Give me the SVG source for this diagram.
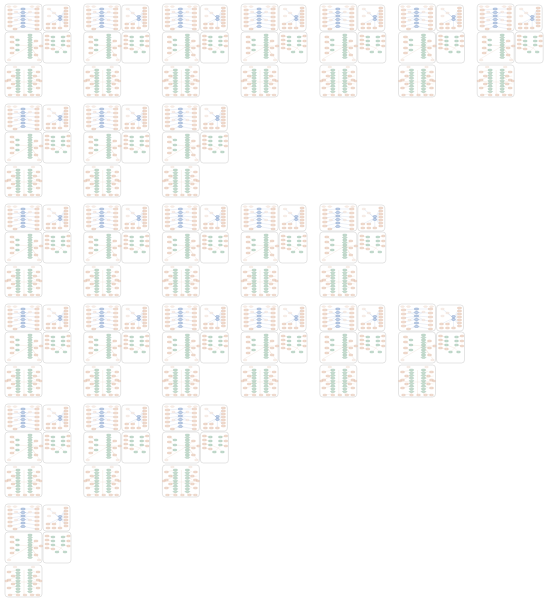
<svg xmlns="http://www.w3.org/2000/svg" xmlns:xlink="http://www.w3.org/1999/xlink" width="551" height="600" viewBox="0 0 551 600">
<style>
.p{fill:#fff;stroke:#d4d4d4;stroke-width:0.6}
.o{fill:#f5e3d8;stroke:#d1a084;stroke-width:0.3}
.b{fill:#c6d4ea;stroke:#5b7fb6;stroke-width:0.35}
.g{fill:#cfe2d7;stroke:#74a78c;stroke-width:0.3}
.f{fill:#f9efe9;stroke:#e6cfc1;stroke-width:0.3}
.e{stroke:#ecd6ca;stroke-width:0.3;fill:none}
.eb{stroke:#c3d0e6;stroke-width:0.3;fill:none}
</style>
<defs>
<g id="grp">
<rect class="p" x="0" y="0" width="37" height="27" rx="3"/>
<rect class="p" x="38" y="1" width="27" height="26" rx="3"/>
<rect class="p" x="0" y="28" width="37" height="31" rx="3"/>
<rect class="p" x="38" y="28" width="28" height="31" rx="3"/>
<rect class="p" x="0" y="61" width="37" height="32" rx="3"/>
<path class="eb" d="M18 5L5 6M18 5L32 5M18 8.5L5 10M18 8.5L32 9M18 12L5 14M18 12L32 13M18 15.5L5 18M18 15.5L32 17M18 19L5 22M18 19L32 21M18 22.5L10 25M18 22.5L32 25M18 5V22.5M11 8L25 16M11 16L25 8"/>
<ellipse class="f" cx="4" cy="2.6" rx="2" ry="0.8"/><ellipse class="f" cx="10" cy="2.6" rx="2" ry="0.8"/><ellipse class="f" cx="27" cy="2.6" rx="2" ry="0.8"/><ellipse class="f" cx="33" cy="2.6" rx="2" ry="0.8"/>
<ellipse class="b" cx="18" cy="5" rx="2.3" ry="1"/><ellipse class="b" cx="18" cy="8.5" rx="2.3" ry="1"/><ellipse class="b" cx="18" cy="12" rx="2.3" ry="1"/><ellipse class="b" cx="18" cy="15.5" rx="2.3" ry="1"/><ellipse class="b" cx="18" cy="19" rx="2.3" ry="1"/><ellipse class="b" cx="18" cy="22.5" rx="2.3" ry="1"/>
<ellipse class="f" cx="11" cy="8" rx="1.8" ry="0.8"/><ellipse class="f" cx="25" cy="8" rx="1.8" ry="0.8"/><ellipse class="f" cx="11" cy="16" rx="1.8" ry="0.8"/><ellipse class="f" cx="25" cy="16" rx="1.8" ry="0.8"/>
<ellipse class="o" cx="5" cy="6" rx="2.5" ry="1"/><ellipse class="o" cx="5" cy="10" rx="2.5" ry="1"/><ellipse class="o" cx="5" cy="14" rx="2.5" ry="1"/><ellipse class="o" cx="5" cy="18" rx="2.5" ry="1"/><ellipse class="o" cx="5" cy="22" rx="2.5" ry="1"/><ellipse class="o" cx="10" cy="25" rx="2.3" ry="0.9"/>
<ellipse class="o" cx="32" cy="5" rx="2.5" ry="1"/><ellipse class="o" cx="32" cy="9" rx="2.5" ry="1"/><ellipse class="o" cx="32" cy="13" rx="2.5" ry="1"/><ellipse class="o" cx="32" cy="17" rx="2.5" ry="1"/><ellipse class="o" cx="32" cy="21" rx="2.5" ry="1"/><ellipse class="o" cx="32" cy="25" rx="2.3" ry="0.9"/>
<path class="eb" d="M55 14L61 4M55 14L61 7M55 14L61 10M55 14L61 13M55 14L61 16M55 14L61 19M55 14L61 22M55 14L43 20M55 14L49 20M55 14L55 24M55 14L44 5M55 14L49 9"/>
<ellipse class="f" cx="44" cy="5" rx="2" ry="0.8"/><ellipse class="f" cx="49" cy="9" rx="2" ry="0.8"/><ellipse class="f" cx="44" cy="12" rx="2" ry="0.8"/>
<ellipse class="b" cx="55" cy="12.5" rx="1.8" ry="1"/><ellipse class="b" cx="55" cy="15.5" rx="1.8" ry="1"/>
<ellipse class="o" cx="61" cy="4" rx="2.3" ry="0.9"/><ellipse class="o" cx="61" cy="7" rx="2.3" ry="0.9"/><ellipse class="o" cx="61" cy="10" rx="2.3" ry="0.9"/><ellipse class="o" cx="61" cy="13" rx="2.3" ry="0.9"/><ellipse class="o" cx="61" cy="16" rx="2.3" ry="0.9"/><ellipse class="o" cx="61" cy="19" rx="2.3" ry="0.9"/><ellipse class="o" cx="61" cy="22" rx="2.3" ry="0.9"/>
<ellipse class="o" cx="43" cy="20" rx="2.2" ry="0.9"/><ellipse class="o" cx="43" cy="24" rx="2.2" ry="0.9"/><ellipse class="o" cx="49" cy="20" rx="2.2" ry="0.9"/><ellipse class="o" cx="49" cy="24" rx="2.2" ry="0.9"/><ellipse class="o" cx="55" cy="24" rx="2.2" ry="0.9"/>
<path class="e" d="M7 33L12 36M7 38L12 41M7 44L12 46M7 49L12 46M12 41L25 42M25 31V53M25 42L31 37M25 42L31 44M25 42L31 51M25 42L35 42M3 55L25 42M35 56L25 42"/>
<ellipse class="o" cx="7" cy="33" rx="2.3" ry="0.9"/><ellipse class="o" cx="7" cy="38" rx="2.3" ry="0.9"/><ellipse class="o" cx="7" cy="44" rx="2.3" ry="0.9"/><ellipse class="o" cx="7" cy="49" rx="2.3" ry="0.9"/>
<ellipse class="g" cx="12.5" cy="36" rx="2.1" ry="0.9"/><ellipse class="g" cx="12.5" cy="41" rx="2.1" ry="0.9"/><ellipse class="g" cx="12.5" cy="46" rx="2.1" ry="0.9"/>
<ellipse class="g" cx="25" cy="31" rx="2.3" ry="0.9"/><ellipse class="g" cx="25" cy="33.5" rx="2.3" ry="0.9"/><ellipse class="g" cx="25" cy="36" rx="2.3" ry="0.9"/><ellipse class="g" cx="25" cy="38.5" rx="2.3" ry="0.9"/><ellipse class="g" cx="25" cy="41" rx="2.3" ry="0.9"/><ellipse class="g" cx="25" cy="43.5" rx="2.3" ry="0.9"/><ellipse class="g" cx="25" cy="46" rx="2.3" ry="0.9"/><ellipse class="g" cx="25" cy="48.5" rx="2.3" ry="0.9"/><ellipse class="g" cx="25" cy="51" rx="2.3" ry="0.9"/><ellipse class="g" cx="25" cy="53.5" rx="2.3" ry="0.9"/>
<ellipse class="o" cx="31" cy="37" rx="2.2" ry="0.9"/><ellipse class="o" cx="31" cy="44" rx="2.2" ry="0.9"/><ellipse class="o" cx="31" cy="51" rx="2.2" ry="0.9"/><ellipse class="o" cx="36" cy="42" rx="1.9" ry="0.9"/>
<ellipse class="f" cx="4" cy="56" rx="2" ry="0.8"/><ellipse class="f" cx="34" cy="56" rx="2" ry="0.8"/>
<path class="e" d="M42 32L48 33M42 36L48 37M42 40L48 41M42 44L48 45M58 33L64 32M58 37L64 37M58 41L64 42M48 41L56 44L58 41M56 44L52 48M56 44L60 48"/>
<ellipse class="o" cx="42" cy="32" rx="2.2" ry="0.9"/><ellipse class="o" cx="42" cy="36" rx="2.2" ry="0.9"/><ellipse class="o" cx="42" cy="40" rx="2.2" ry="0.9"/><ellipse class="o" cx="42" cy="44" rx="2.2" ry="0.9"/>
<ellipse class="g" cx="48" cy="33" rx="2.1" ry="0.9"/><ellipse class="g" cx="48" cy="37" rx="2.1" ry="0.9"/><ellipse class="g" cx="48" cy="41" rx="2.1" ry="0.9"/><ellipse class="o" cx="48" cy="45" rx="2.1" ry="0.9"/>
<ellipse class="g" cx="58" cy="33" rx="2.1" ry="0.9"/><ellipse class="g" cx="58" cy="37" rx="2.1" ry="0.9"/><ellipse class="g" cx="58" cy="41" rx="2.1" ry="0.9"/>
<ellipse class="o" cx="63.5" cy="32" rx="1.9" ry="0.9"/><ellipse class="o" cx="63.5" cy="37" rx="1.9" ry="0.9"/><ellipse class="o" cx="63.5" cy="42" rx="1.9" ry="0.9"/>
<ellipse class="g" cx="52" cy="48" rx="2.1" ry="0.9"/><ellipse class="g" cx="60" cy="48" rx="2.1" ry="0.9"/>
<path class="e" d="M3 68L13 66M3 76L13 72M3 84L13 82M8 72L13 74M8 80L13 78M30 68L25 66M30 76L25 72M30 84L25 82M35 72L25 74M35 80L25 78M13 66V90M25 66V90M13 78L25 78M1 77L13 78M36 77L25 78M4 91L13 90M33 91L25 90M19 91L19 66"/>
<ellipse class="f" cx="10" cy="63" rx="2" ry="0.8"/><ellipse class="f" cx="28" cy="63" rx="2" ry="0.8"/>
<ellipse class="g" cx="13" cy="66" rx="2.3" ry="0.9"/><ellipse class="g" cx="13" cy="68.7" rx="2.3" ry="0.9"/><ellipse class="g" cx="13" cy="71.4" rx="2.3" ry="0.9"/><ellipse class="g" cx="13" cy="74.1" rx="2.3" ry="0.9"/><ellipse class="g" cx="13" cy="76.8" rx="2.3" ry="0.9"/><ellipse class="g" cx="13" cy="79.5" rx="2.3" ry="0.9"/><ellipse class="g" cx="13" cy="82.2" rx="2.3" ry="0.9"/><ellipse class="g" cx="13" cy="84.9" rx="2.3" ry="0.9"/><ellipse class="g" cx="13" cy="87.6" rx="2.3" ry="0.9"/>
<ellipse class="g" cx="25" cy="66" rx="2.3" ry="0.9"/><ellipse class="g" cx="25" cy="68.7" rx="2.3" ry="0.9"/><ellipse class="g" cx="25" cy="71.4" rx="2.3" ry="0.9"/><ellipse class="g" cx="25" cy="74.1" rx="2.3" ry="0.9"/><ellipse class="g" cx="25" cy="76.8" rx="2.3" ry="0.9"/><ellipse class="g" cx="25" cy="79.5" rx="2.3" ry="0.9"/><ellipse class="g" cx="25" cy="82.2" rx="2.3" ry="0.9"/><ellipse class="g" cx="25" cy="84.9" rx="2.3" ry="0.9"/><ellipse class="g" cx="25" cy="87.6" rx="2.3" ry="0.9"/>
<ellipse class="o" cx="4" cy="68" rx="2.2" ry="0.9"/><ellipse class="o" cx="4" cy="76" rx="2.2" ry="0.9"/><ellipse class="o" cx="4" cy="84" rx="2.2" ry="0.9"/><ellipse class="o" cx="8" cy="72" rx="2.1" ry="0.9"/><ellipse class="o" cx="8" cy="80" rx="2.1" ry="0.9"/>
<ellipse class="o" cx="33" cy="68" rx="2.2" ry="0.9"/><ellipse class="o" cx="33" cy="76" rx="2.2" ry="0.9"/><ellipse class="o" cx="33" cy="84" rx="2.2" ry="0.9"/><ellipse class="o" cx="30" cy="72" rx="2.1" ry="0.9"/><ellipse class="o" cx="30" cy="80" rx="2.1" ry="0.9"/>
<ellipse class="o" cx="1.5" cy="77" rx="1.7" ry="0.8"/><ellipse class="o" cx="35.5" cy="77" rx="1.7" ry="0.8"/>
<ellipse class="o" cx="5" cy="91" rx="2.1" ry="0.8"/><ellipse class="o" cx="13" cy="91" rx="2.1" ry="0.8"/><ellipse class="o" cx="20" cy="91" rx="2.1" ry="0.8"/><ellipse class="o" cx="27" cy="91" rx="2.1" ry="0.8"/><ellipse class="o" cx="33" cy="91" rx="2.1" ry="0.8"/>
</g>
</defs>
<g id="row1">
<use id="g1-1" xlink:href="#grp" href="#grp" x="5" y="4"/>
<use id="g1-2" xlink:href="#grp" href="#grp" x="83.7" y="4"/>
<use id="g1-3" xlink:href="#grp" href="#grp" x="162.4" y="4"/>
<use id="g1-4" xlink:href="#grp" href="#grp" x="241.1" y="4"/>
<use id="g1-5" xlink:href="#grp" href="#grp" x="319.8" y="4"/>
<use id="g1-6" xlink:href="#grp" href="#grp" x="398.5" y="4"/>
<use id="g1-7" xlink:href="#grp" href="#grp" x="477.2" y="4"/>
</g>
<g id="row2">
<use id="g2-1" xlink:href="#grp" href="#grp" x="5" y="104"/>
<use id="g2-2" xlink:href="#grp" href="#grp" x="83.7" y="104"/>
<use id="g2-3" xlink:href="#grp" href="#grp" x="162.4" y="104"/>
</g>
<g id="row3">
<use id="g3-1" xlink:href="#grp" href="#grp" x="5" y="204"/>
<use id="g3-2" xlink:href="#grp" href="#grp" x="83.7" y="204"/>
<use id="g3-3" xlink:href="#grp" href="#grp" x="162.4" y="204"/>
<use id="g3-4" xlink:href="#grp" href="#grp" x="241.1" y="204"/>
<use id="g3-5" xlink:href="#grp" href="#grp" x="319.8" y="204"/>
</g>
<g id="row4">
<use id="g4-1" xlink:href="#grp" href="#grp" x="5" y="304"/>
<use id="g4-2" xlink:href="#grp" href="#grp" x="83.7" y="304"/>
<use id="g4-3" xlink:href="#grp" href="#grp" x="162.4" y="304"/>
<use id="g4-4" xlink:href="#grp" href="#grp" x="241.1" y="304"/>
<use id="g4-5" xlink:href="#grp" href="#grp" x="319.8" y="304"/>
<use id="g4-6" xlink:href="#grp" href="#grp" x="398.5" y="304"/>
</g>
<g id="row5">
<use id="g5-1" xlink:href="#grp" href="#grp" x="5" y="404"/>
<use id="g5-2" xlink:href="#grp" href="#grp" x="83.7" y="404"/>
<use id="g5-3" xlink:href="#grp" href="#grp" x="162.4" y="404"/>
</g>
<g id="row6">
<use id="g6-1" xlink:href="#grp" href="#grp" x="5" y="504"/>
</g>
</svg>
